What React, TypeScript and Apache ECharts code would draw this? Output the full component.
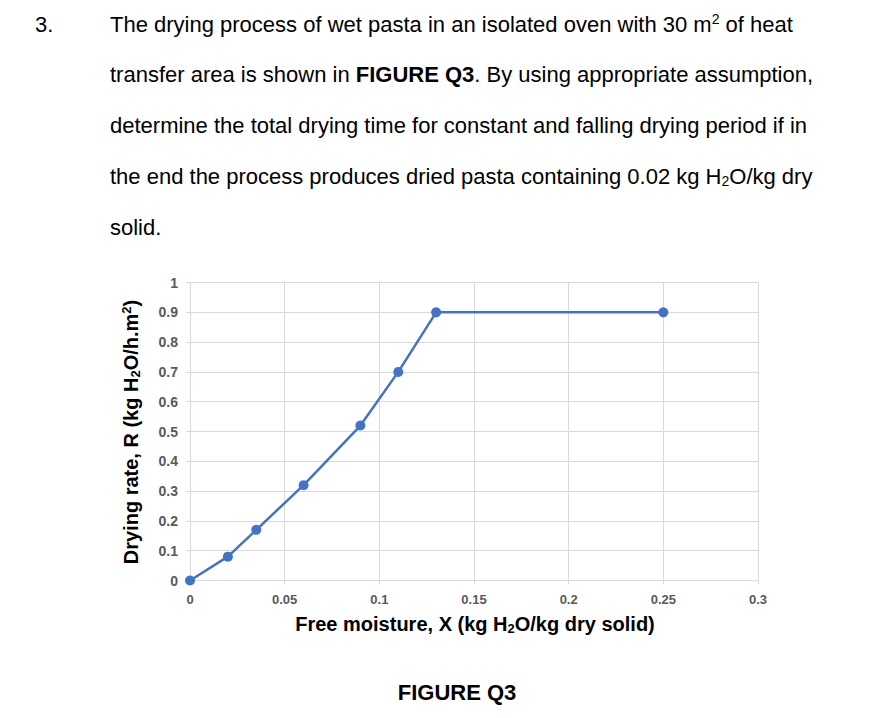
import React, { useEffect, useRef } from "react";
import * as echarts from "echarts";

const moistureX = [0, 0.02, 0.035, 0.06, 0.09, 0.11, 0.13, 0.25];
const dryingRateR = [0, 0.08, 0.17, 0.32, 0.52, 0.7, 0.9, 0.9];

const FONT = "Arial, 'Liberation Sans', sans-serif";
const GRAY = "#595959";
const GRID = "#d9d9d9";

export default function App() {
  const ref = useRef<HTMLDivElement>(null);
  useEffect(() => {
    if (!ref.current) return;
    const chart = echarts.init(ref.current, null, { renderer: "svg" });
    const body = { fontSize: 22, fontFamily: FONT, fill: "#000" };
    const rich = {
      b: { fontSize: 22, fontFamily: FONT, fontWeight: "bold", color: "#000", lineHeight: 24 },
      n: { fontSize: 22, fontFamily: FONT, color: "#000", lineHeight: 24 },
      sup: { fontSize: 14, fontFamily: FONT, color: "#000", verticalAlign: "top", lineHeight: 16 },
      sub: { fontSize: 14, fontFamily: FONT, color: "#000", verticalAlign: "bottom", lineHeight: 16 },
    };
    const paraLines = [
      "{n|The drying process of wet pasta in an isolated oven with 30 m}{sup|2}{n| of heat}",
      "{n|transfer area is shown in }{b|FIGURE Q3}{n|. By using appropriate assumption,}",
      "{n|determine the total drying time for constant and falling drying period if in}",
      "{n|the end the process produces dried pasta containing 0.02 kg H}{sub|2}{n|O/kg dry}",
      "{n|solid.}",
    ];
    const lineY = [24, 74, 125, 176, 227];
    const titleRich = {
      t: { fontSize: 20, fontFamily: FONT, fontWeight: "bold", color: GRAY, lineHeight: 22 },
      sub: { fontSize: 13, fontFamily: FONT, fontWeight: "bold", color: GRAY, verticalAlign: "bottom", lineHeight: 14 },
      sup: { fontSize: 13, fontFamily: FONT, fontWeight: "bold", color: GRAY, verticalAlign: "top", lineHeight: 14 },
    };
    chart.setOption({
      animation: false,
      backgroundColor: "#fff",
      grid: { left: 190, right: 130, top: 282.5, bottom: 137.5, containLabel: false },
      xAxis: {
        type: "value",
        min: 0,
        max: 0.3,
        interval: 0.05,
        axisLine: { show: true, lineStyle: { color: GRID, width: 1 } },
        axisTick: { show: true, length: 4, lineStyle: { color: GRID } },
        splitLine: { show: true, lineStyle: { color: GRID, width: 1 } },
        axisLabel: { color: GRAY, fontSize: 13, fontFamily: FONT, fontWeight: "bold", margin: 12 },
      },
      yAxis: {
        type: "value",
        min: 0,
        max: 1,
        interval: 0.1,
        axisLine: { show: true, lineStyle: { color: GRID, width: 1 } },
        axisTick: { show: true, length: 4, lineStyle: { color: GRID } },
        splitLine: { show: true, lineStyle: { color: GRID, width: 1 } },
        axisLabel: { color: GRAY, fontSize: 14, fontFamily: FONT, fontWeight: "bold", margin: 12 },
      },
      series: [
        {
          type: "line",
          data: moistureX.map((x, i) => [x, dryingRateR[i]]),
          symbol: "circle",
          symbolSize: 10,
          lineStyle: { color: "#4472C4", width: 2.5 },
          itemStyle: { color: "#4472C4" },
        },
      ],
      graphic: [
        { type: "text", x: 35, y: lineY[0], style: { text: "3.", verticalAlign: "middle", ...body } },
        ...paraLines.map((t, i) => ({
          type: "text",
          x: 110,
          y: lineY[i],
          style: { text: t, rich, verticalAlign: "middle", align: "left", ...body },
        })),
        {
          type: "text",
          x: 475,
          y: 624,
          style: {
            text: "{t|Free moisture, X (kg H}{sub|2}{t|O/kg dry solid)}",
            rich: titleRich,
            align: "center",
            verticalAlign: "middle",
          },
        },
        {
          type: "text",
          x: 131,
          y: 432,
          rotation: Math.PI / 2,
          style: {
            text: "{t|Drying rate, R (kg H}{sub|2}{t|O/h.m}{sup|2}{t|)}",
            rich: titleRich,
            align: "center",
            verticalAlign: "middle",
          },
        },
        {
          type: "text",
          x: 457,
          y: 692,
          style: {
            text: "FIGURE Q3",
            fontSize: 22,
            fontWeight: "bold",
            fontFamily: FONT,
            fill: "#000",
            align: "center",
            verticalAlign: "middle",
          },
        },
      ],
    });
    return () => chart.dispose();
  }, []);
  return (
    <div
      ref={ref}
      style={{ position: "fixed", left: 0, top: 0, width: 888, height: 718 }}
    />
  );
}
